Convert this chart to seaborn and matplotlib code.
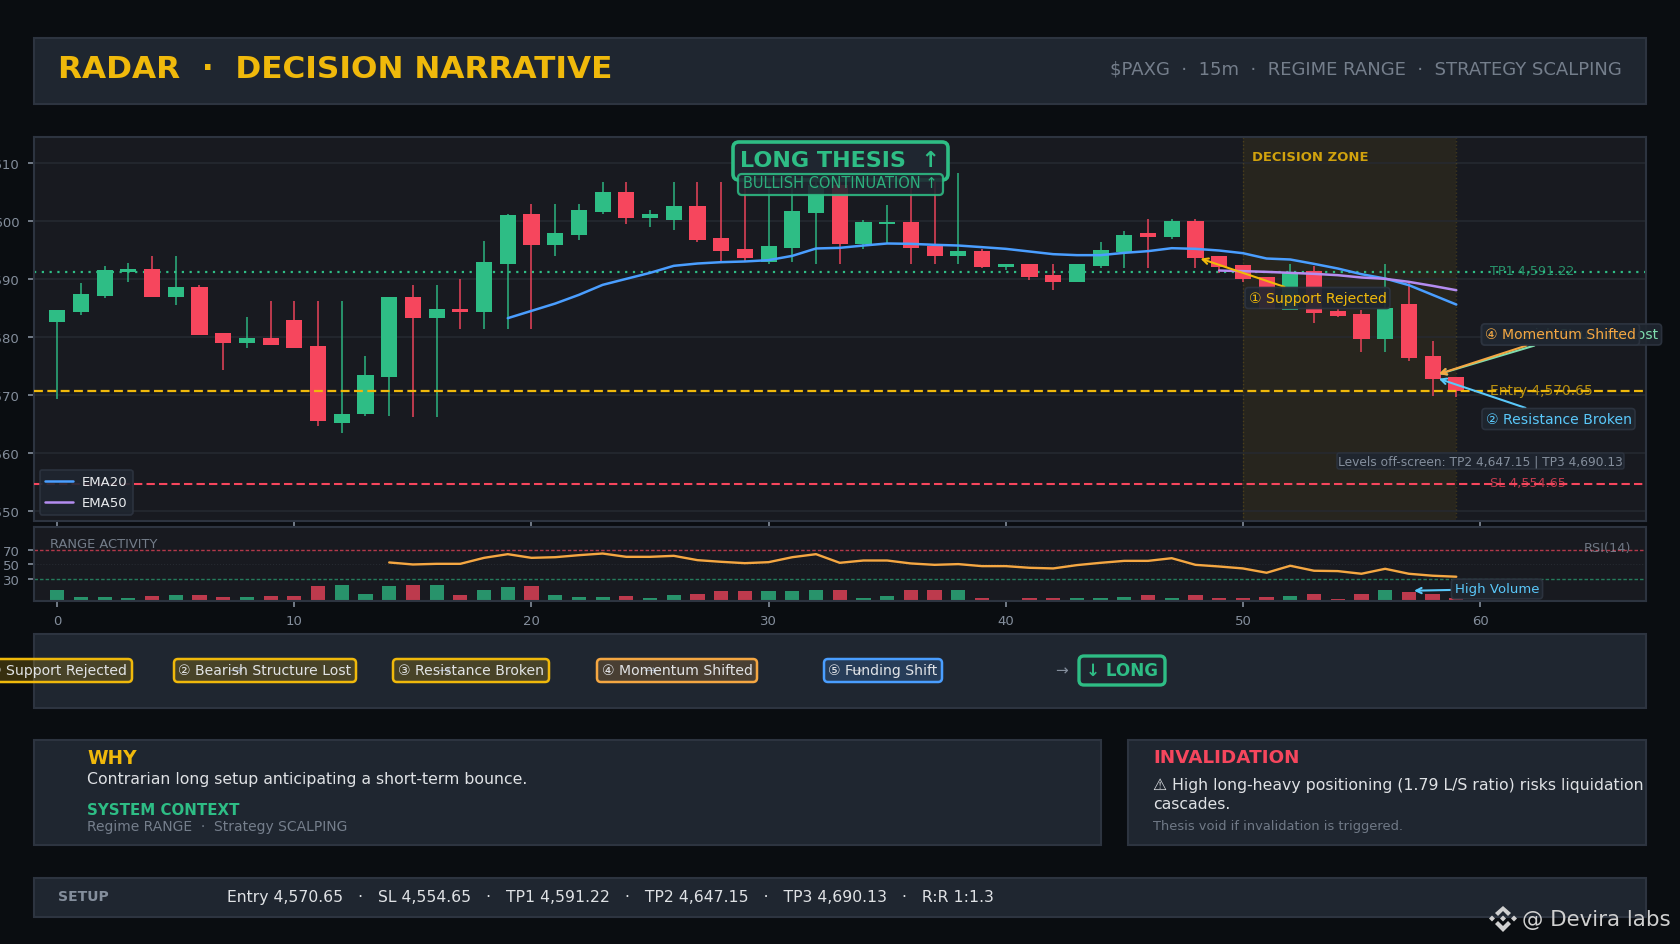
import matplotlib
matplotlib.use("Agg")
import matplotlib.pyplot as plt
from matplotlib.patches import FancyBboxPatch, Polygon, Rectangle
import seaborn as sns
import pandas as pd

# palette
BG = "#0a0d11"
PANEL = "#1f2630"
CHART = "#181a20"
BORDER = "#2d3440"
GRID = "#262a31"
GOLD = "#f0b90b"
GREEN = "#2ebd85"
RED = "#f6465d"
BLUE = "#4a9eff"
PURPLE = "#b48cf0"
ORANGE = "#f5a742"
CYAN = "#5ac8fa"
GREY = "#848e9c"
LIGHT = "#eaecef"

# candles
opens = [4582.6, 4584.4, 4587.1, 4591.2, 4591.8, 4587.0, 4588.7, 4580.75, 4579.0, 4579.9,
         4583.0, 4578.5, 4565.2, 4566.8, 4573.2, 4587.0, 4583.3, 4584.9, 4584.4, 4592.6,
         4601.3, 4595.9, 4597.6, 4601.6, 4605.0, 4600.6, 4600.2, 4602.6, 4597.1, 4595.2,
         4593.0, 4595.4, 4601.4, 4606.3, 4596.1, 4599.5, 4599.9, 4595.7, 4594.0, 4594.9,
         4592.1, 4592.6, 4590.7, 4589.5, 4592.3, 4594.7, 4598.0, 4597.3, 4600.0, 4594.0,
         4592.5, 4590.4, 4584.7, 4591.4, 4584.5, 4584.0, 4579.7, 4585.7, 4576.8, 4573.2]
closes = [4584.7, 4587.5, 4591.6, 4591.8, 4587.0, 4588.7, 4580.4, 4579.0, 4579.9, 4578.7,
          4578.2, 4565.6, 4566.8, 4573.5, 4587.0, 4583.3, 4584.9, 4584.4, 4593.0, 4601.1,
          4595.9, 4598.0, 4602.0, 4605.0, 4600.6, 4601.3, 4602.6, 4596.8, 4594.9, 4593.7,
          4595.7, 4601.8, 4606.3, 4596.1, 4599.9, 4599.9, 4595.4, 4594.0, 4594.9, 4592.1,
          4592.6, 4590.4, 4589.5, 4592.6, 4595.0, 4597.6, 4597.3, 4600.0, 4593.7, 4592.1,
          4590.0, 4584.9, 4591.0, 4584.2, 4583.7, 4579.7, 4585.0, 4576.4, 4572.8, 4570.7]
highs = [4584.7, 4589.3, 4592.3, 4592.75, 4594.0, 4594.0, 4589.0, 4580.75, 4583.5, 4586.3,
         4586.3, 4586.3, 4586.3, 4576.8, 4587.0, 4589.0, 4589.0, 4590.0, 4596.6, 4601.3,
         4603.0, 4603.0, 4603.0, 4606.8, 4606.8, 4602.0, 4606.8, 4606.8, 4606.8, 4606.8,
         4606.8, 4606.8, 4607.5, 4607.0, 4600.2, 4602.8, 4607.0, 4607.0, 4608.3, 4595.2,
         4592.6, 4592.6, 4592.6, 4592.6, 4596.4, 4598.3, 4600.4, 4600.4, 4600.4, 4594.0,
         4592.5, 4590.4, 4592.6, 4592.3, 4584.9, 4584.7, 4592.6, 4589.4, 4579.4, 4573.2]
lows = [4569.4, 4583.85, 4586.8, 4589.5, 4587.0, 4585.6, 4580.4, 4574.4, 4578.2, 4578.7,
        4578.2, 4564.7, 4563.5, 4566.4, 4566.4, 4566.3, 4566.3, 4581.4, 4581.4, 4581.4,
        4581.4, 4594.0, 4596.8, 4601.3, 4599.5, 4599.0, 4598.5, 4596.4, 4593.0, 4593.2,
        4592.6, 4593.0, 4592.6, 4592.6, 4595.2, 4596.1, 4592.6, 4592.6, 4592.6, 4592.0,
        4591.6, 4589.9, 4588.2, 4589.5, 4592.0, 4592.0, 4592.0, 4597.0, 4592.0, 4591.0,
        4589.5, 4584.9, 4584.7, 4582.5, 4583.5, 4577.5, 4577.5, 4575.9, 4569.9, 4569.7]

ema20 = [4583.28, 4584.54, 4585.8, 4587.3, 4589.02, 4590.06, 4591.09, 4592.3, 4592.7, 4592.93,
         4593.05, 4593.28, 4594.02, 4595.29, 4595.4, 4595.8, 4596.15, 4596.09, 4595.92, 4595.8,
         4595.52, 4595.23, 4594.77, 4594.31, 4594.14, 4594.14, 4594.54, 4594.83, 4595.34, 4595.23,
         4594.94, 4594.48, 4593.56, 4593.39, 4592.64, 4591.84, 4590.86, 4590.11, 4588.97, 4587.3,
         4585.63]
ema50 = [4591.49, 4591.38, 4591.26, 4591.09, 4590.92, 4590.69, 4590.29, 4590.06, 4589.54, 4588.85, 4588.1]

rsi = [52.8, 50.0, 50.9, 50.9, 59.2, 64.3, 59.2, 60.1, 62.9, 65.2,
       60.6, 60.6, 62.0, 56.0, 53.7, 51.8, 53.2, 60.1, 64.3, 52.3,
       55.5, 55.5, 51.4, 49.5, 50.5, 47.7, 47.7, 45.4, 44.5, 49.1,
       52.3, 55.0, 55.0, 58.7, 49.5, 47.2, 44.5, 38.5, 48.2, 41.3,
       40.8, 37.1, 44.0, 37.1, 34.4, 33.0]

volume = [15.2, 5.5, 5.5, 2.8, 6.9, 8.3, 8.3, 5.5, 5.5, 6.9,
          6.9, 20.7, 22.1, 9.7, 20.7, 22.1, 22.1, 8.3, 15.2, 19.3,
          20.7, 8.3, 5.5, 5.5, 6.9, 2.8, 8.3, 9.7, 13.8, 13.8,
          13.8, 13.8, 15.2, 15.2, 4.1, 6.9, 15.2, 15.2, 15.2, 2.8,
          0.4, 2.8, 4.1, 2.8, 4.1, 5.5, 8.3, 2.8, 8.3, 2.8,
          2.8, 5.5, 6.9, 9.7, 1.4, 9.7, 15.2, 12.4, 9.7, 2.8]

entry_price = 4570.65
sl_price = 4554.65
tp1_price = 4591.22
price_ticks = [4550, 4560, 4570, 4580, 4590, 4600, 4610]
time_ticks = [0, 10, 20, 30, 40, 50, 60]
rsi_ticks = [30, 50, 70]

df = pd.DataFrame({"i": range(60), "open": opens, "close": closes, "high": highs, "low": lows, "vol": volume})
df["up"] = df["close"] >= df["open"]
df["base"] = df[["open", "close"]].min(axis=1)
df["body"] = (df["close"] - df["open"]).abs()
ema20_df = pd.DataFrame({"i": range(19, 60), "v": ema20})
ema50_df = pd.DataFrame({"i": range(49, 60), "v": ema50})
rsi_df = pd.DataFrame({"i": range(14, 60), "v": rsi})

sns.set_theme(style="dark", rc={"axes.facecolor": CHART, "figure.facecolor": BG})
plt.rcParams["font.family"] = ["DejaVu Sans"]

W, H = 1680, 945
fig = plt.figure(figsize=(W / 100, H / 100), dpi=100, facecolor=BG)


def px_axes(x0, y0, x1, y1):
    return fig.add_axes([x0 / W, 1 - y1 / H, (x1 - x0) / W, (y1 - y0) / H])


# background panels sit under the two charts
back = fig.add_axes([0, 0, 1, 1], zorder=0)
back.set_xlim(-1, W - 1)
back.set_ylim(H - 1, -1)
back.axis("off")
for x0, y0, x1, y1 in [(33, 38, 1645, 104), (33, 634, 1645, 708), (33, 740, 1100, 845),
                       (1127, 740, 1645, 845), (33, 878, 1645, 917)]:
    back.add_patch(Rectangle((x0, y0), x1 - x0, y1 - y0, facecolor=PANEL, edgecolor=BORDER, lw=1.5))

ax = px_axes(33.5, 138, 1646, 522)
ax.set_zorder(1)
vax = px_axes(33.5, 528, 1646, 601.5)
vax.set_zorder(1)

# price panel
ax.axvspan(50, 59, color="#f0b90b", alpha=0.07, lw=0, zorder=0.5)
for xv in [50, 59]:
    ax.axvline(xv, color=GOLD, alpha=0.18, lw=1, ls=":", zorder=0.6)
ax.axhline(tp1_price, color=GREEN, lw=1.6, ls=(0, (1, 2.5)), zorder=1.5)
for is_up, col in [(True, GREEN), (False, RED)]:
    part = df[df["up"] == is_up]
    ax.vlines(part["i"], part["low"], part["high"], color=col, lw=1.3, alpha=0.8, zorder=2)
    sns.barplot(data=part, x="i", y="body", bottom=part["base"].values, native_scale=True, color=col,
                saturation=1, width=0.68, errorbar=None, linewidth=0, zorder=3, ax=ax)
ax.axhline(entry_price, color=GOLD, lw=1.6, ls=(0, (4, 2)), zorder=4)
ax.axhline(sl_price, color=RED, lw=1.5, ls=(0, (4, 2)), zorder=4)
sns.lineplot(data=ema20_df, x="i", y="v", color=BLUE, lw=1.8, label="EMA20", zorder=5, ax=ax)
sns.lineplot(data=ema50_df, x="i", y="v", color=PURPLE, lw=1.8, label="EMA50", zorder=5, ax=ax)
ax.set_xlim(-1, 67)
ax.set_ylim(4548.33, 4614.5)
ax.set_xticks(time_ticks)
ax.set_xticklabels([])
ax.set_yticks(price_ticks)
ax.set_yticklabels([f"{p:,}" for p in price_ticks])
ax.set_xlabel("")
ax.set_ylabel("")
ax.grid(axis="y", color=GRID, lw=1.1)
ax.set_axisbelow(True)
leg = ax.legend(loc="lower left", bbox_to_anchor=(0.0, 0.0), fontsize=9.5, facecolor=PANEL, edgecolor=BORDER,
                labelcolor=LIGHT, framealpha=0.9, borderpad=0.42, labelspacing=0.6, handlelength=2.1,
                handletextpad=0.65, borderaxespad=0.48)
leg.get_frame().set_linewidth(1.2)
leg.set_zorder(6)

# rsi and volume panel
sns.barplot(data=df, x="i", y="vol", hue="up", palette={True: GREEN, False: RED}, native_scale=True, dodge=False,
            saturation=1, width=0.6, alpha=0.75, errorbar=None, linewidth=0, legend=False, zorder=2, ax=vax)
sns.lineplot(data=rsi_df, x="i", y="v", color=ORANGE, lw=1.7, zorder=3, ax=vax)
vax.axhline(70, color=RED, lw=1, ls=(0, (2.5, 1.5)), alpha=0.7, zorder=1)
vax.axhline(30, color=GREEN, lw=1, ls=(0, (2.5, 1.5)), alpha=0.6, zorder=1)
vax.axhline(50, color=GRID, lw=0.8, ls=":", zorder=1)
vax.set_xlim(-1, 67)
vax.set_ylim(0, 102)
vax.set_xticks(time_ticks)
vax.set_yticks(rsi_ticks)
vax.set_xlabel("")
vax.set_ylabel("")
vax.grid(False)

for a in (ax, vax):
    a.set_facecolor(CHART)
    for s in a.spines.values():
        s.set_color(BORDER)
        s.set_linewidth(1.5)
    a.tick_params(axis="both", colors=GREY, labelsize=9.5, length=4, width=1.2, pad=6, bottom=True, left=True)

# everything laid out in pixels goes on this top layer
ov = fig.add_axes([0, 0, 1, 1], zorder=5)
ov.set_xlim(0, W)
ov.set_ylim(H - 1, -1)
ov.axis("off")
ov.patch.set_alpha(0)


def box(x0, y0, x1, y1, edge, face, lw=1.5, alpha=1.0, rounding=4, z=6):
    p = FancyBboxPatch((x0, y0), x1 - x0, y1 - y0, boxstyle=f"round,pad=0,rounding_size={rounding}",
                       facecolor=face, edgecolor=edge, lw=lw, alpha=alpha, zorder=z, clip_on=False)
    ov.add_patch(p)


def txt(x, y, s, color=LIGHT, size=10, weight="normal", ha="left", alpha=1.0, z=8):
    ov.text(x, y, s, color=color, fontsize=size, fontweight=weight, ha=ha, va="center", alpha=alpha, zorder=z)


# header
txt(58, 68.5, "RADAR  ·  DECISION NARRATIVE", GOLD, 22.4, "bold")
txt(1622, 69, "$PAXG  ·  15m  ·  REGIME RANGE  ·  STRATEGY SCALPING", GREY, 13, ha="right", alpha=0.85)

# thesis boxes
box(733, 142, 948, 180, GREEN, PANEL, lw=2.6, rounding=6)
txt(840, 160.5, "LONG THESIS  ↑", GREEN, 16, "bold", ha="center")
box(738, 174, 943, 195, GREEN, PANEL, lw=1.6, alpha=0.88, z=7)
txt(840, 183, "BULLISH CONTINUATION ↑", GREEN, 10.5, ha="center", alpha=0.9)

# level labels and small captions
txt(1252, 157, "DECISION ZONE", GOLD, 9.45, "bold", alpha=0.85)
txt(1490, 271, "TP1 4,591.22", GREEN, 9.2, alpha=0.75)
txt(1490, 390, "Entry 4,570.65", GOLD, 10, alpha=0.75)
txt(1490, 483, "SL 4,554.65", RED, 9.2, alpha=0.75)
box(1337, 453, 1624, 469, BORDER, PANEL, lw=1, alpha=0.9, rounding=2)
txt(1480.5, 461, "Levels off-screen: TP2 4,647.15 | TP3 4,690.13", GREY, 8.8, ha="center")
txt(50, 544, "RANGE ACTIVITY", GREY, 9.35, alpha=0.85)
txt(1631, 547.5, "RSI(14)", GREY, 9.3, ha="right", alpha=0.8)


def note(s, target, pos, color, size=10.1, on=None):
    ov.annotate(s, xy=target, xycoords=(on or ax).transData, xytext=pos, textcoords=ov.transData,
                color=color, fontsize=size, ha="center", va="center", zorder=8,
                bbox=dict(boxstyle="round,pad=0.25", facecolor=PANEL, edgecolor=BORDER, lw=1.2, alpha=0.92),
                arrowprops=dict(arrowstyle="->", color=color, lw=1.5, shrinkA=0, shrinkB=2))


note("① Support Rejected", (48.1, 4593.7), (1317.5, 298), GOLD)
note("③ Bearish Structure Lost", (58.15, 4573.5), (1571.5, 334.5), "#7fdcae")
note("④ Momentum Shifted", (58.15, 4573.5), (1560.5, 334.5), ORANGE)
note("② Resistance Broken", (58.15, 4573.0), (1558.5, 419), CYAN)
note("High Volume", (57.1, 13.5), (1497, 589), CYAN, size=9.5, on=vax)

# flow row
chips = [(-20, 132, 58, "① Support Rejected", GOLD),
         (174, 356, 264.5, "② Bearish Structure Lost", GOLD),
         (393, 549, 471, "③ Resistance Broken", GOLD),
         (597, 757, 677, "④ Momentum Shifted", ORANGE),
         (824, 942, 883, "⑤ Funding Shift", BLUE)]
for x0, x1, xc, label, col in chips:
    box(x0, 659, x1, 682, "none", col, lw=0, alpha=0.2)
    box(x0, 659, x1, 682, col, "none", lw=1.8)
    txt(xc, 670, label, LIGHT, 10.1, ha="center", alpha=0.95)
for xa in [235, 443, 650, 855, 1061]:
    txt(xa, 670, "→", GREY, 11, ha="center", z=7)
box(1079, 656, 1165, 685, GREEN, PANEL, lw=2.4, rounding=5)
txt(1122, 670, "↓ LONG", GREEN, 12.1, "bold", ha="center")

# why / invalidation / setup
txt(87, 757.5, "WHY", GOLD, 13.4, "bold")
txt(87, 779, "Contrarian long setup anticipating a short-term bounce.", LIGHT, 11.35, alpha=0.95)
txt(87, 809.5, "SYSTEM CONTEXT", GREEN, 10.8, "bold")
txt(87, 826.5, "Regime RANGE  ·  Strategy SCALPING", GREY, 10, alpha=0.85)
txt(1153, 757.5, "INVALIDATION", RED, 13.2, "bold")
txt(1153, 785, "⚠ High long-heavy positioning (1.79 L/S ratio) risks liquidation", LIGHT, 11.35, alpha=0.95)
txt(1153, 804, "cascades.", LIGHT, 11.35, alpha=0.95)
txt(1153, 826, "Thesis void if invalidation is triggered.", GREY, 9.35, alpha=0.8)
txt(58, 896, "SETUP", GREY, 10.1, "bold")
txt(227, 896.5, "Entry 4,570.65   ·   SL 4,554.65   ·   TP1 4,591.22   ·   TP2 4,647.15   ·   TP3 4,690.13   ·   R:R 1:1.3",
    LIGHT, 11.25, alpha=0.95)

# watermark
LOGO = "#d0d0d0"
for pts in [[(1495, 913), (1503, 906), (1511, 913), (1508, 916), (1503, 911), (1498, 916)],
            [(1495, 924), (1503, 932), (1511, 924), (1508, 921), (1503, 926), (1498, 921)],
            [(1489, 918.5), (1492, 915.5), (1495, 918.5), (1492, 921.5)],
            [(1511, 918.5), (1514, 915.5), (1517, 918.5), (1514, 921.5)],
            [(1500, 918.5), (1503, 915.5), (1506, 918.5), (1503, 921.5)]]:
    ov.add_patch(Polygon(pts, closed=True, facecolor=LOGO, edgecolor="none", zorder=9))
txt(1522, 919, "@ Devira labs", LOGO, 15.4, z=9)

fig.savefig("out.png", dpi=100, facecolor=BG)
